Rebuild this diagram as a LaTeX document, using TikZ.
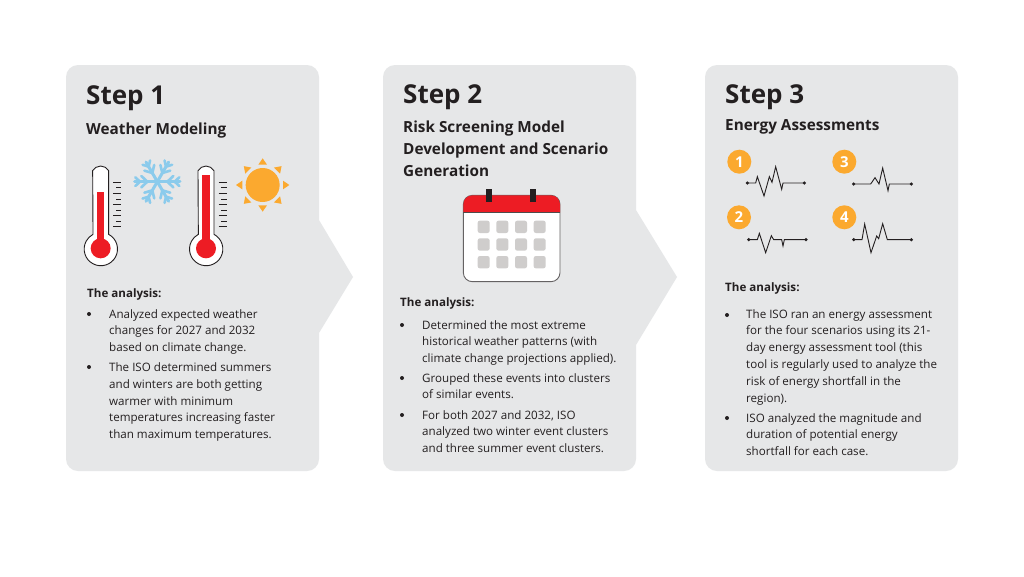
\documentclass[tikz,border=0pt]{standalone}
\usepackage{fontspec}
\setmainfont{Open Sans}
\definecolor{panel}{HTML}{E6E7E8}
\definecolor{ink}{HTML}{231F20}
\definecolor{thred}{HTML}{ED1C24}
\definecolor{snow}{HTML}{8BCBEC}
\definecolor{sunor}{HTML}{FBA92F}
\definecolor{cellg}{HTML}{CFCDCC}
\tikzset{x=1pt,y=-1pt,
  panelshape/.style={fill=panel,draw=none},
  steptitle/.style={anchor=base west,inner sep=0,text=ink,font=\fontsize{26}{26}\selectfont\bfseries},
  subtitle/.style={anchor=base west,inner sep=0,text=ink,align=left,font=\fontsize{15.3}{22}\selectfont\bfseries},
  analysis/.style={anchor=base west,inner sep=0,text=ink,font=\fontsize{11.6}{17}\selectfont\bfseries},
  bodytext/.style={anchor=north west,inner sep=0,text=ink,align=left,font=\fontsize{11.6}{16.8}\selectfont},
  bulletdot/.style={circle,fill=ink,inner sep=0,minimum size=4pt},
  badge/.style={circle,fill=sunor,inner sep=0,minimum size=24pt,text=white,font=\fontsize{15}{15}\selectfont\bfseries},
  wave/.style={draw=ink,line width=0.9pt,line join=miter},
  waveend/.style={circle,fill=ink,inner sep=0,minimum size=3.5pt},
  tick/.style={draw=ink,line width=0.8pt}
}
\newcommand{\panelbox}[2]{% left, right x; #3 = right side path
  \fill[panelshape] (#1,77) arc[start angle=180,end angle=270,radius=12] -- (#2-12,65) arc[start angle=270,end angle=360,radius=12]}
\newcommand{\panelend}[2]{-- (#2,459) arc[start angle=0,end angle=90,radius=12] -- (#1+12,471) arc[start angle=90,end angle=180,radius=12] -- cycle;}
\newcommand{\thermo}[2]{% x offset, red top in zoom coords
  \begin{scope}[shift={(#1,0)}]
    \draw[fill=white,draw=ink,line width=0.9pt]
      (80,92) -- (90,82) -- (104,78) -- (118,82) -- (128,92) -- (128,283)
      arc[start angle=-62,end angle=242,radius=50] -- cycle;
    \fill[thred] (93,#2) rectangle (115,310);
    \fill[thred] (104,325) circle (30);
    \foreach \yy [count=\i] in {127,143.6,160.2,176.9,193.5,210.1,226.8,243.4,260}{
      \pgfmathparse{int(mod(\i,2))}
      \ifnum\pgfmathresult=1 \draw[tick] (142,\yy) -- (166,\yy);
      \else \draw[tick] (150,\yy) -- (166,\yy);\fi
    }
  \end{scope}}
\newcommand{\wavedots}[2]{\node[waveend] at (#1) {};\node[waveend] at (#2) {};}
\begin{document}
\begin{tikzpicture}
\useasboundingbox (0,0) rectangle (1024,576);
\fill[white] (0,0) rectangle (1024,576);
% panels
\panelbox{66}{319} -- (319,220) -- (353,277) -- (319,333) \panelend{66}{319}
\panelbox{383}{636} -- (636,210) -- (677,277) -- (636,345) \panelend{383}{636}
\panelbox{705}{958} \panelend{705}{958}
% titles
\node[steptitle] (s1) at (86,104.5) {Step 1};
\node[subtitle] (t1) at (86,134) {Weather Modeling};
\node[steptitle] (s2) at (403,103.5) {Step 2};
\node[subtitle,anchor=north west] (t2) at (403,121) {Risk Screening Model\\Development and Scenario\\Generation};
\node[steptitle] (s3) at (725,103.5) {Step 3};
\node[subtitle] (t3) at (725,130) {Energy Assessments};
% icons step 1
\begin{scope}[shift={(66,140)},scale=1/3]
  \thermo{0}{155}
  \thermo{316}{105}
  % snowflake
  \begin{scope}[shift={(274,125)}]
    \foreach \a in {0,60,...,300}{
      \begin{scope}[rotate=\a]
        \draw[snow,line width=3pt,line cap=round] (0,0) -- (68,0);
        \draw[snow,line width=2.6pt,line cap=round] (30,0) -- (48,-17) (30,0) -- (48,17);
        \draw[snow,line width=2.6pt,line cap=round] (52,0) -- (66,-13) (52,0) -- (66,13);
      \end{scope}}
  \end{scope}
  % sun
  \begin{scope}[shift={(590,135)}]
    \fill[sunor] (0,0) circle (51);
    \foreach \a in {0,45,...,315}{
      \fill[sunor,rotate=\a] (61,-13) -- (80,0) -- (61,13) -- cycle;
    }
  \end{scope}
\end{scope}
% calendar
\begin{scope}[shift={(440,180)},scale=1/3]
  \draw[fill=white,draw=ink!70,line width=0.9pt,rounded corners=9pt] (70,46) rectangle (360,305);
  \fill[thred] (70,98) -- (70,73) arc[start angle=180,end angle=270,radius=27] -- (333,46) arc[start angle=270,end angle=360,radius=27] -- (360,98) -- cycle;
  \draw[ink!80,line width=0.9pt] (70,98) -- (360,98);
  \fill[ink] (138,28) rectangle (155,65);
  \fill[ink] (270,28) rectangle (287,65);
  \foreach \xx in {113,169,225,281}\foreach \yy in {122,175,228}{
    \fill[cellg,rounded corners=2.2pt] (\xx,\yy) rectangle ++(36,37);
  }
\end{scope}
% badges
\node[badge] (b1) at (739.3,161.7) {1};
\node[badge] (b3) at (844.3,161.7) {3};
\node[badge] (b2) at (739,217.3) {2};
\node[badge] (b4) at (844.3,217.3) {4};
% waves
\begin{scope}[shift={(715,140)},scale=1/3]
  \draw[wave] (97,129) -- (122,129) -- (127,110) -- (147,168) -- (163,110) -- (171,127) -- (182,80) -- (200,148) -- (204,129) -- (268,129);
  \wavedots{97,129}{268,129}
  \draw[wave] (416,132) -- (467,132) -- (480,113) -- (492,132) -- (503,84) -- (519,152) -- (523,132) -- (589,132);
  \wavedots{416,132}{589,132}
  \draw[wave] (101,299) -- (127,299) -- (133,280) -- (152,338) -- (169,287) -- (176,299) -- (200,299) -- (204,318) -- (208,299) -- (273,299);
  \wavedots{101,299}{273,299}
  \draw[wave] (416,299) -- (441,299) -- (449,252) -- (468,338) -- (485,288) -- (491,296) -- (503,251) -- (517,299) -- (589,299);
  \wavedots{416,299}{589,299}
\end{scope}
% analysis 1
\node[analysis] (a1) at (87,297) {The analysis:};
\node[bulletdot] (d11) at (89,314) {};
\node[bodytext] (p11) at (109,309) {Analyzed expected weather\\changes for 2027 and 2032\\based on climate change.};
\node[bulletdot] (d12) at (89,367) {};
\node[bodytext] (p12) at (109,362.5) {The ISO determined summers\\and winters are both getting\\warmer with minimum\\temperatures increasing faster\\than maximum temperatures.};
% analysis 2
\node[analysis] (a2) at (400,306) {The analysis:};
\node[bulletdot] (d21) at (402,325) {};
\node[bodytext] (p21) at (422,320) {Determined the most extreme\\historical weather patterns (with\\climate change projections applied).};
\node[bulletdot] (d22) at (402,378) {};
\node[bodytext] (p22) at (422,373) {Grouped these events into clusters\\of similar events.};
\node[bulletdot] (d23) at (402,415) {};
\node[bodytext] (p23) at (422,410) {For both 2027 and 2032, ISO\\analyzed two winter event clusters\\and three summer event clusters.};
% analysis 3
\node[analysis] (a3) at (725,291) {The analysis:};
\node[bulletdot] (d31) at (727,315) {};
\node[bodytext] (p31) at (746,309) {The ISO ran an energy assessment\\for the four scenarios using its 21-\\day energy assessment tool (this\\tool is regularly used to analyze the\\risk of energy shortfall in the\\region).};
\node[bulletdot] (d32) at (727,418) {};
\node[bodytext] (p32) at (746,413) {ISO analyzed the magnitude and\\duration of potential energy\\shortfall for each case.};
\end{tikzpicture}
\end{document}
